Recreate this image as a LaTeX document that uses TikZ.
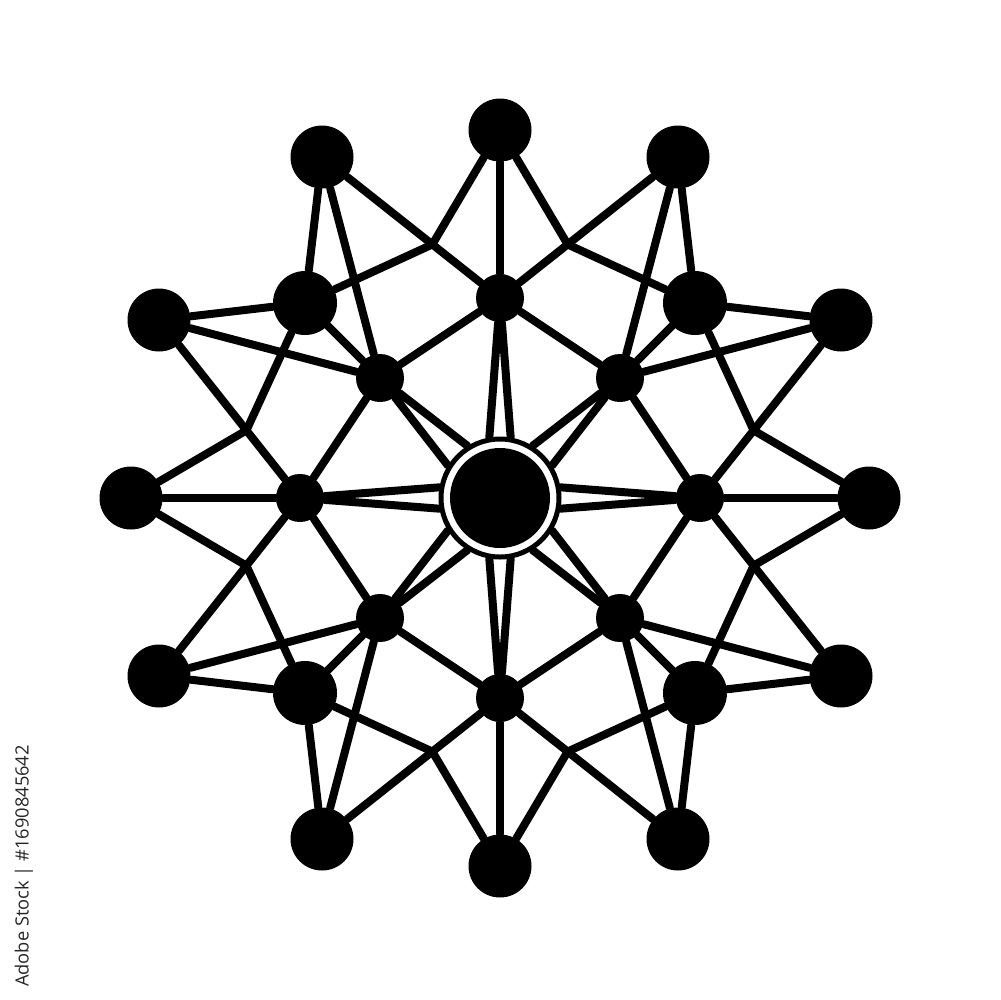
\documentclass[tikz,border=0pt]{standalone}
\usepackage{fontspec}
\newfontfamily\stockfont{Open Sans}
\usetikzlibrary{calc}

\begin{document}
\begin{tikzpicture}[
  x=0.1mm, y=-0.1mm,
  leaf/.style={circle, fill=black, minimum size=6.3mm, inner sep=0pt},
  bud/.style={circle, fill=black, minimum size=6.4mm, inner sep=0pt},
  seed/.style={circle, fill=black, minimum size=4.8mm, inner sep=0pt},
  hub/.style={circle, draw=black, line width=0.5mm, fill=white, minimum size=11.8mm, inner sep=0pt},
  core/.style={circle, fill=black, minimum size=10mm, inner sep=0pt},
  link/.style={line width=0.8mm, line cap=round, line join=round}
]
\useasboundingbox (0,0) rectangle (1000,1000);

% Hub in the middle
\node[hub] (hub) at (500,498) {};
\node[core] (core) at (hub) {};

% Outer ring of leaves, clockwise from the top
\node[leaf] (top) at (500,130) {};
\node[leaf] (topR) at (678,157) {};
\node[leaf] (rightT) at (841,320) {};
\node[leaf] (right) at (869,498) {};
\node[leaf] (rightB) at (841,676) {};
\node[leaf] (botR) at (678,839) {};
\node[leaf] (bot) at (500,866) {};
\node[leaf] (botL) at (322,839) {};
\node[leaf] (leftB) at (159,676) {};
\node[leaf] (left) at (131,498) {};
\node[leaf] (leftT) at (159,320) {};
\node[leaf] (topL) at (322,157) {};

% Buds on the diagonals
\node[bud] (budTL) at (305,303) {};
\node[bud] (budTR) at (695,303) {};
\node[bud] (budBR) at (695,693) {};
\node[bud] (budBL) at (305,693) {};

% Inner ring of seeds
\node[seed] (seedT) at (500,298) {};
\node[seed] (seedTR) at (620,378) {};
\node[seed] (seedR) at (700,498) {};
\node[seed] (seedBR) at (620,618) {};
\node[seed] (seedB) at (500,698) {};
\node[seed] (seedBL) at (380,618) {};
\node[seed] (seedL) at (300,498) {};
\node[seed] (seedTL) at (380,378) {};

% Kinks where the bent strokes meet the long strokes
\coordinate (kinkTL) at ($(topL)!0.62!(seedT)$);
\coordinate (kinkTR) at ($(topR)!0.62!(seedT)$);
\coordinate (kinkBL) at ($(botL)!0.62!(seedB)$);
\coordinate (kinkBR) at ($(botR)!0.62!(seedB)$);
\coordinate (kinkLT) at ($(leftT)!0.62!(seedL)$);
\coordinate (kinkLB) at ($(leftB)!0.62!(seedL)$);
\coordinate (kinkRT) at ($(rightT)!0.62!(seedR)$);
\coordinate (kinkRB) at ($(rightB)!0.62!(seedR)$);

% Spokes from the axis leaves
\draw[link] (top) -- (seedT) (bot) -- (seedB) (left) -- (seedL) (right) -- (seedR);

% Long strokes to the axis seeds
\draw[link] (topL) -- (seedT) (topR) -- (seedT) (botL) -- (seedB) (botR) -- (seedB);
\draw[link] (leftT) -- (seedL) (leftB) -- (seedL) (rightT) -- (seedR) (rightB) -- (seedR);

% Bent strokes through the kinks
\draw[link] (top) -- (kinkTL) -- (budTL);
\draw[link] (top) -- (kinkTR) -- (budTR);
\draw[link] (bot) -- (kinkBL) -- (budBL);
\draw[link] (bot) -- (kinkBR) -- (budBR);
\draw[link] (left) -- (kinkLT) -- (budTL);
\draw[link] (left) -- (kinkLB) -- (budBL);
\draw[link] (right) -- (kinkRT) -- (budTR);
\draw[link] (right) -- (kinkRB) -- (budBR);

% Buds to leaves and seeds
\draw[link] (budTL) -- (topL) (budTL) -- (leftT) (budTL) -- (seedTL);
\draw[link] (budTR) -- (topR) (budTR) -- (rightT) (budTR) -- (seedTR);
\draw[link] (budBR) -- (botR) (budBR) -- (rightB) (budBR) -- (seedBR);
\draw[link] (budBL) -- (botL) (budBL) -- (leftB) (budBL) -- (seedBL);

% Diagonal seeds to leaves
\draw[link] (seedTL) -- (topL) (seedTL) -- (leftT);
\draw[link] (seedTR) -- (topR) (seedTR) -- (rightT);
\draw[link] (seedBR) -- (botR) (seedBR) -- (rightB);
\draw[link] (seedBL) -- (botL) (seedBL) -- (leftB);

% Seed ring
\draw[link] (seedT) -- (seedTR) (seedTR) -- (seedR) (seedR) -- (seedBR) (seedBR) -- (seedB);
\draw[link] (seedB) -- (seedBL) (seedBL) -- (seedL) (seedL) -- (seedTL) (seedTL) -- (seedT);

% Wedges into the hub
\draw[link] (seedT) -- (hub.80) (seedT) -- (hub.100);
\draw[link] (seedTR) -- (hub.32) (seedTR) -- (hub.58);
\draw[link] (seedR) -- (hub.-10) (seedR) -- (hub.10);
\draw[link] (seedBR) -- (hub.-32) (seedBR) -- (hub.-58);
\draw[link] (seedB) -- (hub.-80) (seedB) -- (hub.-100);
\draw[link] (seedBL) -- (hub.212) (seedBL) -- (hub.238);
\draw[link] (seedL) -- (hub.170) (seedL) -- (hub.190);
\draw[link] (seedTL) -- (hub.122) (seedTL) -- (hub.148);

% Stock number along the left edge
\node[rotate=90, inner sep=0pt, text=black!85, font=\stockfont\fontsize{5.2}{6}\selectfont] (stockid) at (24,866) {Adobe Stock | \#1690845642};

\end{tikzpicture}
\end{document}
